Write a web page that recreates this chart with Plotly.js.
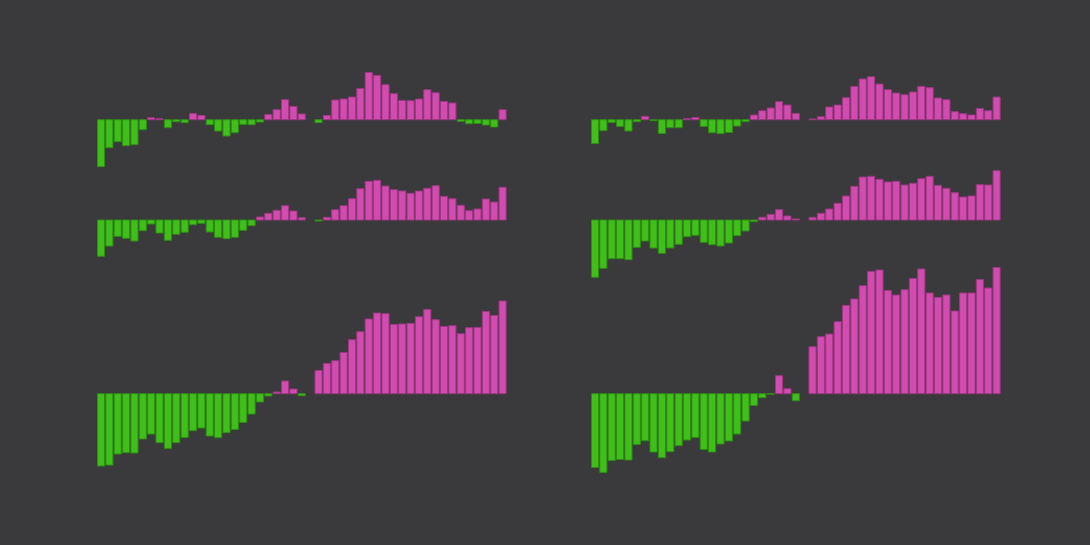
<!DOCTYPE html>
<html>
<head>
<meta charset="utf-8">
<script src="https://cdn.plot.ly/plotly-3.0.1.min.js"></script>
<style>
  html, body { margin: 0; padding: 0; background: #3a3a3c; }
  #chart { width: 1090px; height: 545px; }
</style>
</head>
<body>
<div id="chart"></div>
<script>
// bar heights per panel, 49 periods each (null = no bar)
const topLeft = [-47, -28, -22, -26, -25, -10, 2, 1, -8, -2, -3, 6.3, 4.3, -5, -11.3, -16.3, -13, -4.7, -5, -2.3,
  5.3, 10, 20, 13.3, 5.7, null, -3, 4.3, 19.7, 20.7, 22.7, 31.3, 47.3, 44.3, 35, 26, 19.3, 19, 20.7, 30,
  27, 18.3, 16.7, -1.7, -4, -3.7, -5.3, -7.3, 10];
const topRight = [-23.7, -11, -2.7, -6.7, -11.3, -2, 3.3, -1, -13.7, -8, -8, 1, 2.3, -6.7, -13, -14, -12.7, -6.3, -2, 4.7,
  9, 11.7, 18, 14.7, 6.3, null, 0.7, 3, 12.7, 14.7, 22, 33.3, 40.7, 43, 35.7, 30, 26.7, 25, 27.7, 33.3,
  32, 21.7, 20, 8, 6, 4.7, 11.3, 9, 22.7];
const midLeft = [-36.3, -26, -16.3, -18.3, -21, -10.7, -4, -13, -20.3, -14.3, -12.3, -4.7, -3.3, -12, -17.3, -18.7, -17.3, -10.3, -5.7, 3,
  6.7, 9.7, 14.3, 9, 2.3, null, -1, 2.7, 10.3, 14.3, 21.3, 31.3, 38.7, 39.7, 34, 30.3, 29, 26.7, 29, 31.7,
  34.3, 23.7, 21.3, 14.7, 9.3, 11, 21, 18, 32.7];
const midRight = [-57.3, -48.3, -38.7, -38.7, -39.7, -27.3, -21, -28, -33.3, -28, -24.3, -16.7, -15.3, -22.3, -24.7, -26, -23, -15.7, -11, -1.7,
  2.7, 5.7, 10.3, 4, 1, null, 2.7, 6.7, 11, 16.7, 24, 33.7, 43, 43.7, 40.7, 38, 38.7, 35, 36.7, 41.3,
  43.7, 34.7, 31.7, 27.3, 23, 24, 35.3, 35, 49.3];
const bottomLeft = [-72.3, -71.3, -60.3, -59, -59.3, -45.3, -40.3, -49, -54.7, -49, -43.7, -37, -34.3, -42.3, -44, -39, -35.7, -28.7, -20.3, -8.3,
  -2.3, 1.7, 12.7, 4.7, -2, null, 23.3, 30.3, 33, 41.3, 54, 62, 74.7, 80.7, 80, 69.3, 69.7, 70.3, 77, 84.3,
  74, 67.3, 68, 60, 66, 66.3, 82.3, 78.3, 92.7];
const bottomRight = [-73.7, -78.7, -66.7, -65.7, -66.3, -50.7, -47, -58.3, -64, -58, -52, -46.3, -43.7, -55.7, -58.3, -50.3, -47.3, -40.3, -27.3, -11.7,
  -4, -0.5, 18, 5, -7, null, 47, 57, 59.7, 72, 88.3, 94.7, 108, 122.3, 123.7, 103.3, 98.7, 104, 115.3, 124.7,
  100.7, 96.3, 98.7, 82.7, 100.7, 100.7, 114.3, 105.7, 126.3];

const W = 1090, H = 545;
const GREEN = "#40bf1b", GREEN_EDGE = "#2f8c15";
const PINK = "#d24bae", PINK_EDGE = "#9c3883";

// rows: zero line in pixels and y extent in data units
const rows = [
  { base: 119.7, lo: -48, hi: 48 },
  { base: 220, lo: -58, hi: 50 },
  { base: 393.7, lo: -80, hi: 127 },
];
const cols = [[96.8, 506.8], [590.8, 1000.8]];

const panels = [
  { values: topLeft, row: 0, col: 0 },
  { values: topRight, row: 0, col: 1 },
  { values: midLeft, row: 1, col: 0 },
  { values: midRight, row: 1, col: 1 },
  { values: bottomLeft, row: 2, col: 0 },
  { values: bottomRight, row: 2, col: 1 },
];

const layout = {
  width: W, height: H,
  margin: { l: 0, r: 0, t: 0, b: 0 },
  paper_bgcolor: "#3a3a3c",
  plot_bgcolor: "rgba(0,0,0,0)",
  showlegend: false,
  bargap: 0.15,
};

const traces = panels.map((p, i) => {
  const n = i === 0 ? "" : String(i + 1);
  const r = rows[p.row];
  const c = cols[p.col];
  layout["xaxis" + n] = {
    domain: [c[0] / W, c[1] / W],
    range: [-0.5, p.values.length - 0.5],
    anchor: "y" + n, visible: false, fixedrange: true,
  };
  layout["yaxis" + n] = {
    domain: [1 - (r.base - r.lo) / H, 1 - (r.base - r.hi) / H],
    range: [r.lo, r.hi],
    anchor: "x" + n, visible: false, fixedrange: true,
  };
  return {
    type: "bar",
    x: p.values.map((_, k) => k),
    y: p.values,
    xaxis: "x" + n,
    yaxis: "y" + n,
    marker: {
      color: p.values.map((v) => (v < 0 ? GREEN : PINK)),
      line: { width: 1, color: p.values.map((v) => (v < 0 ? GREEN_EDGE : PINK_EDGE)) },
    },
    hoverinfo: "y",
  };
});

Plotly.newPlot("chart", traces, layout, { displayModeBar: false, staticPlot: true });
</script>
</body>
</html>
